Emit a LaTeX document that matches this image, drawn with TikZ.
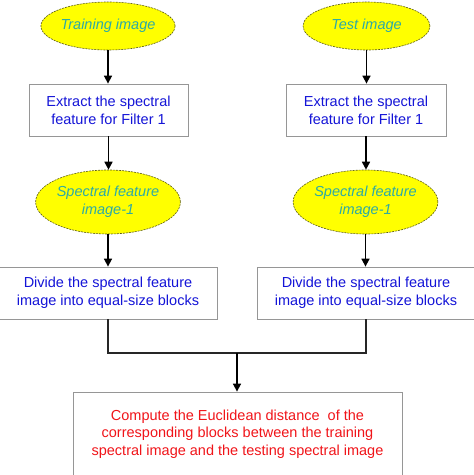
\documentclass[tikz,border=0pt]{standalone}
\usepackage{fontspec}
\setmainfont{Liberation Sans}
\usetikzlibrary{shapes.geometric,arrows.meta}
\definecolor{ellfill}{RGB}{255,255,0}
\definecolor{ellline}{RGB}{90,90,20}
\definecolor{elltext}{RGB}{45,170,165}
\definecolor{boxtext}{RGB}{20,20,215}
\definecolor{redtext}{RGB}{240,20,25}
\definecolor{boxline}{RGB}{150,150,150}
\tikzset{
  ell/.style={ellipse, draw=ellline, fill=ellfill, line width=0.6pt,
    dash pattern=on 2pt off 1pt, inner sep=0pt, align=center,
    text=elltext, font=\fontsize{14.5}{18}\selectfont\itshape},
  stepbox/.style={rectangle, draw=boxline, line width=0.8pt, inner sep=0pt,
    align=center, text=boxtext, font=\fontsize{14.5}{18}\selectfont},
  arr/.style={-{Triangle[length=8pt,width=8pt]}, line width=1.6pt, black},
  conn/.style={line width=1.6pt, black!85}
}
\begin{document}
\begin{tikzpicture}[x=1pt,y=-1pt]
\useasboundingbox (0,0) rectangle (474,475);
\node[ell, minimum width=126pt, minimum height=48pt] (tr) at (108,26) {Training image};
\node[ell, minimum width=127pt, minimum height=48pt] (te) at (366.5,26) {Test image};
\node[stepbox, minimum width=159pt, minimum height=52pt] (ex1) at (108.5,110) {Extract the spectral\\feature for Filter 1};
\node[stepbox, minimum width=160pt, minimum height=52pt] (ex2) at (366,110) {Extract the spectral\\feature for Filter 1};
\node[ell, minimum width=142pt, minimum height=64pt] (sf1) at (108,202) {Spectral feature\\image-1};
\node[ell, minimum width=141pt, minimum height=64pt] (sf2) at (365.5,202) {Spectral feature\\image-1};
\node[stepbox, minimum width=218pt, minimum height=52pt] (dv1) at (108,293) {Divide the spectral feature\\image into equal-size blocks};
\node[stepbox, minimum width=218pt, minimum height=52pt] (dv2) at (366,293) {Divide the spectral feature\\image into equal-size blocks};
\node[stepbox, text=redtext, minimum width=329pt, minimum height=84pt, font=\fontsize{14.5}{17.5}\selectfont] (cp) at (237.5,434) {Compute the Euclidean distance\ \ of the\\corresponding blocks between the training\\spectral image and the testing spectral image};
\coordinate (m1) at (108,353);
\coordinate (m2) at (366,353);
\coordinate (mm) at (237,353);
\draw[arr] (tr.south) -- (tr.south |- ex1.north);
\draw[arr] (te.south) -- (te.south |- ex2.north);
\draw[arr] (ex1.south) -- (ex1.south |- sf1.north);
\draw[arr] (ex2.south) -- (ex2.south |- sf2.north);
\draw[arr] (sf1.south) -- (sf1.south |- dv1.north);
\draw[arr] (sf2.south) -- (sf2.south |- dv2.north);
\draw[conn] (dv1.south) -- (m1) -- (m2) -- (dv2.south);
\draw[arr] (mm) -- (mm |- cp.north);
\end{tikzpicture}
\end{document}
